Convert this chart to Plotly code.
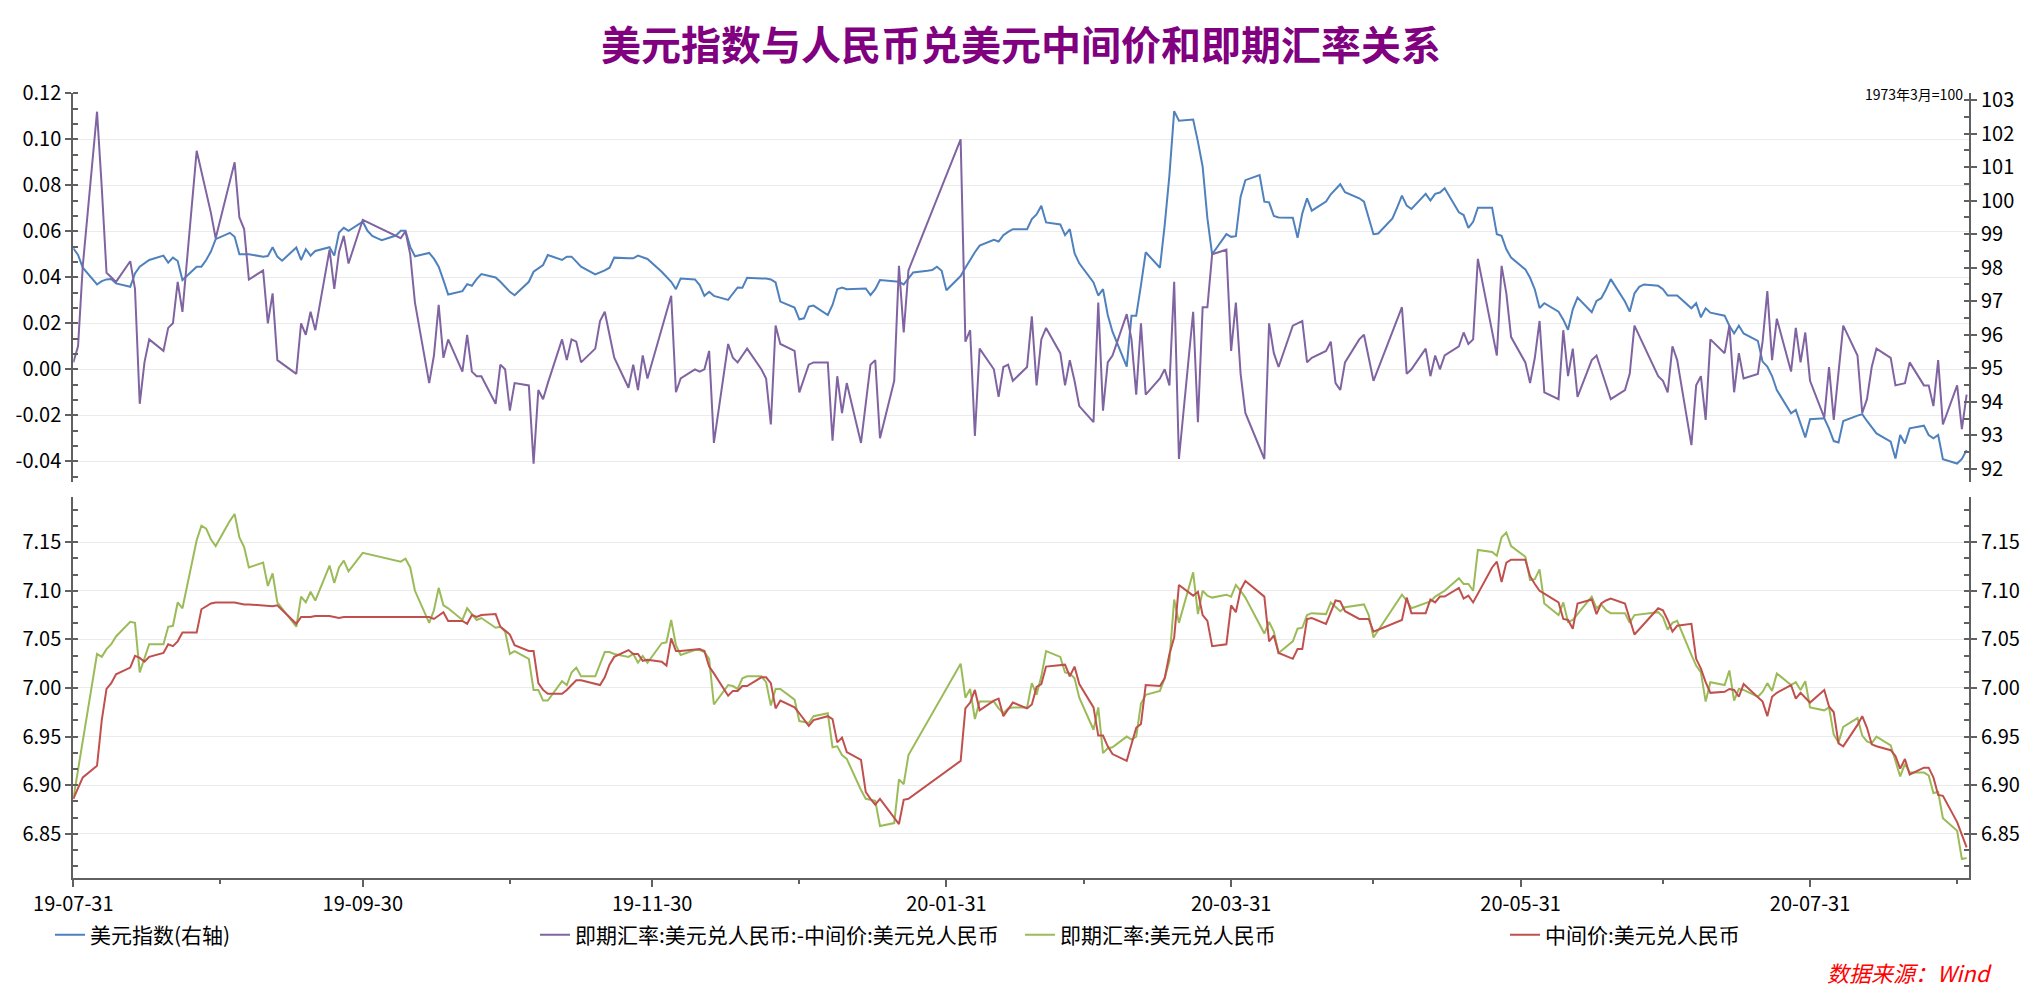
import pandas as pd
import plotly.graph_objects as go

# ---------------- data ----------------
spread_dates = [
 "19-07-31","19-08-01","19-08-02","19-08-05","19-08-06","19-08-07","19-08-08","19-08-09","19-08-12","19-08-13",
 "19-08-14","19-08-15","19-08-16","19-08-19","19-08-20","19-08-21","19-08-22","19-08-23","19-08-26","19-08-27",
 "19-08-28","19-08-29","19-08-30","19-09-02","19-09-03","19-09-04","19-09-05","19-09-06","19-09-09","19-09-10",
 "19-09-11","19-09-12","19-09-16","19-09-17","19-09-18","19-09-19","19-09-20","19-09-23","19-09-24","19-09-25",
 "19-09-26","19-09-27","19-09-30","19-10-08","19-10-09","19-10-10","19-10-11","19-10-14","19-10-15","19-10-16",
 "19-10-17","19-10-18","19-10-21","19-10-22","19-10-23","19-10-24","19-10-25","19-10-28","19-10-29","19-10-30",
 "19-10-31","19-11-01","19-11-04","19-11-05","19-11-06","19-11-07","19-11-08","19-11-11","19-11-12","19-11-13",
 "19-11-14","19-11-15","19-11-18","19-11-19","19-11-20","19-11-21","19-11-22","19-11-25","19-11-26","19-11-27",
 "19-11-28","19-11-29","19-12-04","19-12-05","19-12-06","19-12-09","19-12-10","19-12-11","19-12-12","19-12-13",
 "19-12-16","19-12-17","19-12-18","19-12-19","19-12-20","19-12-23","19-12-24","19-12-25","19-12-26","19-12-27",
 "19-12-30","19-12-31","20-01-02","20-01-03","20-01-06","20-01-07","20-01-08","20-01-09","20-01-10","20-01-13",
 "20-01-15","20-01-16","20-01-17","20-01-20","20-01-21","20-01-22","20-01-23","20-02-03","20-02-04","20-02-05",
 "20-02-06","20-02-07","20-02-10","20-02-11","20-02-12","20-02-13","20-02-14","20-02-17","20-02-18","20-02-19",
 "20-02-20","20-02-21","20-02-24","20-02-25","20-02-26","20-02-27","20-02-28","20-03-02","20-03-03","20-03-04",
 "20-03-05","20-03-06","20-03-09","20-03-10","20-03-11","20-03-12","20-03-13","20-03-16","20-03-17","20-03-18",
 "20-03-19","20-03-20","20-03-23","20-03-24","20-03-25","20-03-26","20-03-27","20-03-30","20-03-31","20-04-01",
 "20-04-02","20-04-03","20-04-07","20-04-08","20-04-09","20-04-10","20-04-13","20-04-14","20-04-15","20-04-16",
 "20-04-17","20-04-20","20-04-21","20-04-22","20-04-23","20-04-24","20-04-27","20-04-28","20-04-30","20-05-06",
 "20-05-07","20-05-08","20-05-11","20-05-12","20-05-13","20-05-14","20-05-15","20-05-18","20-05-19","20-05-20",
 "20-05-21","20-05-22","20-05-26","20-05-27","20-05-28","20-05-29","20-06-01","20-06-02","20-06-03","20-06-04",
 "20-06-05","20-06-08","20-06-09","20-06-10","20-06-11","20-06-12","20-06-15","20-06-16","20-06-19","20-06-22",
 "20-06-23","20-06-24","20-06-29","20-06-30","20-07-01","20-07-02","20-07-03","20-07-06","20-07-07","20-07-08",
 "20-07-09","20-07-10","20-07-13","20-07-14","20-07-15","20-07-16","20-07-17","20-07-20","20-07-21","20-07-22",
 "20-07-23","20-07-24","20-07-27","20-07-28","20-07-29","20-07-30","20-07-31","20-08-03","20-08-04","20-08-05",
 "20-08-07","20-08-10","20-08-11","20-08-12","20-08-13","20-08-14","20-08-17","20-08-18","20-08-20","20-08-21",
 "20-08-24","20-08-25","20-08-26","20-08-27","20-08-28","20-08-31","20-09-01","20-09-02"]
spread_vals = [
 0.003,0.010,0.045,0.112,0.079,0.042,0.040,0.038,0.047,0.035,
 -0.015,0.003,0.013,0.008,0.018,0.020,0.038,0.025,0.095,0.086,
 0.078,0.068,0.057,0.082,0.090,0.066,0.061,0.039,0.043,0.020,
 0.033,0.004,-0.002,0.020,0.015,0.025,0.017,0.052,0.035,0.051,
 0.058,0.046,0.065,0.057,0.060,0.050,0.029,-0.006,0.006,0.028,
 0.005,0.013,-0.001,0.015,-0.001,-0.003,-0.003,-0.015,0.002,0.000,
 -0.018,-0.006,-0.007,-0.041,-0.009,-0.013,-0.006,0.013,0.004,0.013,
 0.012,0.003,0.009,0.021,0.025,0.015,0.005,-0.008,0.002,-0.009,
 0.006,-0.004,0.032,-0.010,-0.004,0.000,-0.001,0.000,0.008,-0.032,
 0.011,0.005,0.003,0.006,0.009,0.000,-0.004,-0.024,0.019,0.011,
 0.008,-0.010,0.002,0.003,0.003,-0.031,-0.003,-0.019,-0.006,-0.032,
 0.002,0.004,-0.030,-0.005,0.045,0.016,0.043,0.100,0.012,0.017,
 -0.029,0.009,0.000,-0.012,0.001,0.002,-0.005,0.001,0.023,-0.007,
 0.013,0.018,0.007,-0.007,0.004,-0.005,-0.016,-0.023,0.029,-0.018,
 0.003,0.006,0.024,0.013,-0.011,0.020,-0.011,-0.004,0.000,-0.007,
 0.038,-0.039,0.025,-0.023,0.027,0.027,0.050,0.052,0.008,0.029,
 -0.002,-0.019,-0.039,0.020,0.007,0.001,0.019,0.020,0.021,0.003,
 0.005,0.008,0.012,-0.006,-0.009,0.003,0.013,0.015,-0.005,0.027,
 -0.002,0.000,0.009,-0.003,0.006,0.000,0.006,0.010,0.016,0.011,
 0.013,0.048,0.006,0.045,0.033,0.014,0.003,-0.006,0.005,0.021,
 -0.010,-0.013,0.017,-0.003,0.009,-0.012,0.004,0.006,-0.013,-0.009,
 -0.002,0.019,-0.003,-0.005,-0.010,0.010,0.004,-0.033,-0.007,-0.003,
 -0.022,0.013,0.007,0.019,-0.010,0.007,-0.004,-0.002,0.012,0.034,
 0.004,0.022,-0.001,0.018,0.003,0.016,-0.005,-0.021,0.001,-0.022,
 0.019,0.006,-0.019,-0.013,0.001,0.009,0.005,-0.007,-0.006,0.003,
 -0.007,-0.007,-0.016,0.004,-0.024,-0.007,-0.026,-0.011]

dxy_dates = [
 "19-07-31","19-08-01","19-08-02","19-08-05","19-08-06","19-08-07","19-08-08","19-08-09","19-08-12","19-08-13",
 "19-08-14","19-08-15","19-08-16","19-08-19","19-08-20","19-08-21","19-08-22","19-08-23","19-08-26","19-08-27",
 "19-08-28","19-08-29","19-08-30","19-09-02","19-09-03","19-09-04","19-09-05","19-09-06","19-09-09","19-09-10",
 "19-09-11","19-09-12","19-09-13","19-09-16","19-09-17","19-09-18","19-09-19","19-09-20","19-09-23","19-09-24",
 "19-09-25","19-09-26","19-09-27","19-09-30","19-10-01","19-10-02","19-10-03","19-10-04","19-10-07","19-10-08",
 "19-10-09","19-10-10","19-10-11","19-10-14","19-10-15","19-10-16","19-10-17","19-10-18","19-10-21","19-10-22",
 "19-10-23","19-10-24","19-10-25","19-10-28","19-10-29","19-10-30","19-10-31","19-11-01","19-11-04","19-11-05",
 "19-11-06","19-11-07","19-11-08","19-11-11","19-11-12","19-11-13","19-11-14","19-11-15","19-11-18","19-11-19",
 "19-11-20","19-11-21","19-11-22","19-11-25","19-11-26","19-11-27","19-11-28","19-11-29","19-12-02","19-12-03",
 "19-12-04","19-12-05","19-12-06","19-12-09","19-12-10","19-12-11","19-12-12","19-12-13","19-12-16","19-12-17",
 "19-12-18","19-12-19","19-12-20","19-12-23","19-12-24","19-12-25","19-12-26","19-12-27","19-12-30","19-12-31",
 "20-01-01","20-01-02","20-01-03","20-01-06","20-01-07","20-01-08","20-01-09","20-01-10","20-01-13","20-01-14",
 "20-01-15","20-01-16","20-01-17","20-01-20","20-01-21","20-01-22","20-01-23","20-01-24","20-01-27","20-01-28",
 "20-01-29","20-01-30","20-01-31","20-02-03","20-02-04","20-02-05","20-02-06","20-02-07","20-02-10","20-02-11",
 "20-02-12","20-02-13","20-02-14","20-02-17","20-02-18","20-02-19","20-02-20","20-02-21","20-02-24","20-02-25",
 "20-02-26","20-02-27","20-02-28","20-03-02","20-03-03","20-03-04","20-03-05","20-03-06","20-03-09","20-03-10",
 "20-03-11","20-03-12","20-03-13","20-03-16","20-03-17","20-03-18","20-03-19","20-03-20","20-03-23","20-03-24",
 "20-03-25","20-03-26","20-03-27","20-03-30","20-03-31","20-04-01","20-04-02","20-04-03","20-04-06","20-04-07",
 "20-04-08","20-04-09","20-04-10","20-04-13","20-04-14","20-04-15","20-04-16","20-04-17","20-04-20","20-04-21",
 "20-04-22","20-04-23","20-04-24","20-04-27","20-04-28","20-04-29","20-04-30","20-05-01","20-05-04","20-05-05",
 "20-05-06","20-05-07","20-05-08","20-05-11","20-05-12","20-05-13","20-05-14","20-05-15","20-05-18","20-05-19",
 "20-05-20","20-05-21","20-05-22","20-05-25","20-05-26","20-05-27","20-05-28","20-05-29","20-06-01","20-06-02",
 "20-06-03","20-06-04","20-06-05","20-06-08","20-06-09","20-06-10","20-06-11","20-06-12","20-06-15","20-06-16",
 "20-06-17","20-06-18","20-06-19","20-06-22","20-06-23","20-06-24","20-06-25","20-06-26","20-06-29","20-06-30",
 "20-07-01","20-07-02","20-07-03","20-07-06","20-07-07","20-07-08","20-07-09","20-07-10","20-07-13","20-07-14",
 "20-07-15","20-07-16","20-07-17","20-07-20","20-07-21","20-07-22","20-07-23","20-07-24","20-07-27","20-07-28",
 "20-07-29","20-07-30","20-07-31","20-08-03","20-08-04","20-08-05","20-08-06","20-08-07","20-08-10","20-08-11",
 "20-08-12","20-08-13","20-08-14","20-08-17","20-08-18","20-08-19","20-08-20","20-08-21","20-08-24","20-08-25",
 "20-08-26","20-08-27","20-08-28","20-08-31","20-09-01","20-09-02"]
dxy_vals = [
 98.58,98.38,98.00,97.50,97.60,97.65,97.66,97.53,97.43,97.83,
 98.03,98.13,98.23,98.36,98.15,98.30,98.20,97.63,98.03,98.03,
 98.23,98.48,98.85,99.04,98.92,98.40,98.40,98.40,98.33,98.35,
 98.61,98.33,98.21,98.60,98.23,98.55,98.36,98.50,98.61,98.36,
 99.05,99.19,99.10,99.37,99.10,98.95,98.88,98.82,98.96,99.10,
 99.10,98.62,98.34,98.44,98.27,98.03,97.63,97.20,97.30,97.51,
 97.46,97.66,97.81,97.71,97.58,97.43,97.28,97.18,97.58,97.88,
 97.98,98.08,98.38,98.23,98.33,98.33,98.18,98.03,97.80,97.85,
 97.92,98.00,98.30,98.28,98.28,98.36,98.32,98.26,97.88,97.72,
 97.58,97.36,97.68,97.65,97.48,97.16,97.28,97.16,97.04,97.23,
 97.41,97.40,97.70,97.68,97.68,97.65,97.56,96.99,96.81,96.46,
 96.49,96.84,96.87,96.59,96.89,97.36,97.41,97.36,97.38,97.38,
 97.18,97.36,97.63,97.60,97.58,97.50,97.68,97.86,97.91,97.93,
 98.03,97.91,97.33,97.75,98.00,98.25,98.46,98.66,98.83,98.78,
 98.97,99.07,99.15,99.15,99.45,99.59,99.85,99.35,99.29,98.97,
 99.15,98.43,98.13,97.56,97.17,97.36,96.59,96.09,95.05,96.57,
 96.57,97.48,98.46,98.00,99.27,100.76,102.67,102.38,102.42,101.76,
 101.01,99.47,98.40,99.00,98.92,98.94,100.12,100.61,100.76,99.97,
 99.95,99.54,99.50,99.49,98.89,99.62,100.07,99.70,99.97,100.19,
 100.35,100.49,100.25,100.07,99.97,99.47,99.00,99.02,99.47,99.80,
 100.15,99.85,99.75,100.20,100.00,100.20,100.24,100.37,99.65,99.57,
 99.19,99.37,99.79,99.79,99.00,98.95,98.55,98.30,97.95,97.70,
 97.35,96.80,96.94,96.69,96.45,96.15,96.76,97.11,96.67,97.01,
 97.09,97.35,97.66,96.99,96.69,97.23,97.43,97.50,97.46,97.36,
 97.17,97.17,97.17,96.79,96.94,96.52,96.79,96.66,96.57,96.27,
 96.04,96.27,96.04,95.82,95.20,95.05,94.77,94.35,93.66,93.76,
 93.35,92.94,93.48,93.51,93.20,92.83,92.79,93.43,93.59,93.63,
 93.43,93.25,93.06,92.81,92.31,93.01,92.76,93.21,93.29,93.01,
 92.91,93.01,92.29,92.16,92.30,92.56]

spot_dates = [
 "19-07-31","19-08-01","19-08-02","19-08-05","19-08-06","19-08-07","19-08-08","19-08-09","19-08-12","19-08-13",
 "19-08-14","19-08-15","19-08-16","19-08-19","19-08-20","19-08-21","19-08-22","19-08-23","19-08-26","19-08-27",
 "19-08-28","19-08-29","19-08-30","19-09-02","19-09-03","19-09-04","19-09-05","19-09-06","19-09-09","19-09-10",
 "19-09-11","19-09-12","19-09-16","19-09-17","19-09-18","19-09-19","19-09-20","19-09-23","19-09-24","19-09-25",
 "19-09-26","19-09-27","19-09-30","19-10-08","19-10-09","19-10-10","19-10-11","19-10-14","19-10-15","19-10-16",
 "19-10-17","19-10-18","19-10-21","19-10-22","19-10-23","19-10-24","19-10-25","19-10-28","19-10-29","19-10-30",
 "19-10-31","19-11-01","19-11-04","19-11-05","19-11-06","19-11-07","19-11-08","19-11-11","19-11-12","19-11-13",
 "19-11-14","19-11-15","19-11-18","19-11-19","19-11-20","19-11-21","19-11-22","19-11-25","19-11-26","19-11-27",
 "19-11-28","19-11-29","19-12-02","19-12-03","19-12-04","19-12-05","19-12-06","19-12-09","19-12-10","19-12-11",
 "19-12-12","19-12-13","19-12-16","19-12-17","19-12-18","19-12-19","19-12-20","19-12-23","19-12-24","19-12-25",
 "19-12-26","19-12-27","19-12-30","19-12-31","20-01-02","20-01-03","20-01-06","20-01-07","20-01-08","20-01-09",
 "20-01-10","20-01-13","20-01-14","20-01-15","20-01-16","20-01-17","20-01-20","20-01-21","20-01-22","20-01-23",
 "20-02-03","20-02-04","20-02-05","20-02-06","20-02-07","20-02-10","20-02-11","20-02-12","20-02-13","20-02-14",
 "20-02-17","20-02-18","20-02-19","20-02-20","20-02-21","20-02-24","20-02-25","20-02-26","20-02-27","20-02-28",
 "20-03-02","20-03-03","20-03-04","20-03-05","20-03-06","20-03-09","20-03-10","20-03-11","20-03-12","20-03-13",
 "20-03-16","20-03-17","20-03-18","20-03-19","20-03-20","20-03-23","20-03-24","20-03-25","20-03-26","20-03-27",
 "20-03-30","20-03-31","20-04-01","20-04-02","20-04-03","20-04-07","20-04-08","20-04-09","20-04-10","20-04-13",
 "20-04-14","20-04-15","20-04-16","20-04-17","20-04-20","20-04-21","20-04-22","20-04-23","20-04-24","20-04-27",
 "20-04-28","20-04-29","20-04-30","20-05-06","20-05-07","20-05-08","20-05-11","20-05-12","20-05-13","20-05-14",
 "20-05-15","20-05-18","20-05-19","20-05-20","20-05-21","20-05-22","20-05-25","20-05-26","20-05-27","20-05-28",
 "20-05-29","20-06-01","20-06-02","20-06-03","20-06-04","20-06-05","20-06-08","20-06-09","20-06-10","20-06-11",
 "20-06-12","20-06-15","20-06-16","20-06-17","20-06-18","20-06-19","20-06-22","20-06-23","20-06-24","20-06-29",
 "20-06-30","20-07-01","20-07-02","20-07-03","20-07-06","20-07-07","20-07-08","20-07-09","20-07-10","20-07-13",
 "20-07-14","20-07-15","20-07-16","20-07-17","20-07-20","20-07-21","20-07-22","20-07-23","20-07-24","20-07-27",
 "20-07-28","20-07-29","20-07-30","20-07-31","20-08-03","20-08-04","20-08-05","20-08-06","20-08-07","20-08-10",
 "20-08-11","20-08-12","20-08-13","20-08-14","20-08-17","20-08-18","20-08-19","20-08-20","20-08-21","20-08-24",
 "20-08-25","20-08-26","20-08-27","20-08-28","20-08-31","20-09-01","20-09-02"]
spot_vals = [
 6.886,6.915,6.945,7.035,7.032,7.040,7.045,7.053,7.068,7.067,
 7.016,7.030,7.045,7.045,7.063,7.064,7.088,7.082,7.152,7.167,
 7.164,7.153,7.146,7.172,7.179,7.155,7.145,7.124,7.129,7.105,
 7.118,7.088,7.063,7.094,7.088,7.099,7.090,7.126,7.108,7.124,
 7.131,7.120,7.139,7.130,7.133,7.124,7.100,7.067,7.080,7.103,
 7.085,7.082,7.070,7.082,7.076,7.070,7.072,7.062,7.063,7.058,
 7.035,7.038,7.030,6.998,6.998,6.987,6.987,7.007,7.003,7.016,
 7.021,7.012,7.012,7.025,7.037,7.037,7.035,7.032,7.035,7.026,
 7.033,7.026,7.046,7.047,7.070,7.044,7.034,7.039,7.039,7.037,
 7.030,6.983,7.003,7.002,6.999,7.010,7.012,7.012,7.006,6.982,
 6.999,6.999,6.988,6.966,6.964,6.971,6.974,6.939,6.940,6.931,
 6.927,6.895,6.886,6.885,6.884,6.858,6.861,6.906,6.901,6.931,
 7.025,6.990,6.999,6.968,6.986,6.986,6.979,6.974,6.979,6.980,
 6.980,7.005,6.993,7.012,7.038,7.032,7.016,7.015,7.010,6.990,
 6.957,6.980,6.933,6.938,6.939,6.950,6.947,6.950,6.984,6.993,
 6.997,7.010,7.028,7.091,7.067,7.119,7.076,7.100,7.095,7.093,
 7.096,7.094,7.106,7.100,7.093,7.056,7.068,7.058,7.036,7.048,
 7.061,7.062,7.075,7.077,7.076,7.088,7.083,7.079,7.083,7.085,
 7.086,7.075,7.052,7.096,7.090,7.082,7.087,7.089,7.094,7.097,
 7.100,7.113,7.107,7.107,7.100,7.142,7.140,7.136,7.155,7.160,
 7.146,7.135,7.111,7.112,7.122,7.087,7.075,7.088,7.068,7.070,
 7.076,7.094,7.082,7.086,7.080,7.077,7.077,7.067,7.075,7.078,
 7.073,7.060,7.067,7.069,7.034,7.023,7.016,6.986,7.006,7.003,
 7.018,6.987,6.999,6.998,6.991,6.996,7.005,6.997,7.015,7.003,
 7.006,6.998,7.007,6.980,6.977,6.980,6.952,6.944,6.960,6.969,
 6.951,6.945,6.943,6.950,6.941,6.926,6.909,6.922,6.913,6.913,
 6.910,6.892,6.893,6.866,6.853,6.824,6.825]

mid_dates = spot_dates
mid_vals = [
 6.886,6.898,6.908,6.920,6.967,6.999,7.005,7.014,7.021,7.033,
 7.031,7.027,7.032,7.036,7.045,7.043,7.048,7.057,7.057,7.081,
 7.084,7.087,7.088,7.088,7.088,7.087,7.086,7.086,7.085,7.085,
 7.084,7.085,7.066,7.073,7.073,7.073,7.074,7.074,7.073,7.072,
 7.073,7.073,7.073,7.073,7.073,7.073,7.073,7.073,7.071,7.075,
 7.078,7.069,7.069,7.066,7.075,7.073,7.075,7.076,7.063,7.059,
 7.055,7.044,7.038,7.038,7.005,6.998,6.994,6.994,6.998,7.003,
 7.008,7.008,7.004,7.003,7.011,7.024,7.032,7.039,7.035,7.035,
 7.028,7.029,7.027,7.023,7.051,7.038,7.038,7.040,7.040,7.038,
 7.022,7.015,6.992,6.997,6.997,7.002,7.002,7.011,7.011,7.005,
 6.979,6.987,6.980,6.974,6.961,6.967,6.971,6.968,6.944,6.949,
 6.934,6.926,6.893,6.886,6.880,6.886,6.867,6.860,6.885,6.886,
 6.925,6.979,6.985,6.998,6.977,6.987,6.989,6.971,6.978,6.985,
 6.979,6.983,7.001,7.004,7.022,7.024,7.024,7.012,7.022,7.004,
 6.980,6.951,6.951,6.940,6.932,6.925,6.943,6.959,6.963,7.003,
 7.002,7.010,7.035,7.052,7.106,7.095,7.099,7.075,7.069,7.043,
 7.045,7.085,7.078,7.101,7.110,7.094,7.048,7.054,7.036,7.030,
 7.040,7.040,7.071,7.072,7.066,7.079,7.090,7.089,7.079,7.071,
 7.071,7.071,7.058,7.070,7.093,7.077,7.077,7.091,7.088,7.094,
 7.094,7.103,7.092,7.095,7.088,7.097,7.124,7.130,7.109,7.129,
 7.132,7.132,7.115,7.107,7.100,7.097,7.088,7.071,7.070,7.061,
 7.087,7.091,7.076,7.087,7.090,7.092,7.087,7.071,7.055,7.082,
 7.080,7.070,7.058,7.064,7.066,7.030,7.020,7.006,6.995,6.996,
 6.999,6.998,6.991,7.004,6.991,6.986,6.971,6.991,6.995,7.003,
 6.989,6.995,6.990,6.985,6.998,6.981,6.975,6.943,6.940,6.962,
 6.971,6.959,6.942,6.940,6.936,6.930,6.917,6.927,6.911,6.918,
 6.918,6.908,6.890,6.889,6.862,6.850,6.836]

x_major = ["2019-07-31","2019-09-30","2019-11-30","2020-01-31","2020-03-31","2020-05-31","2020-07-31"]
x_major_text = ["19-07-31","19-09-30","19-11-30","20-01-31","20-03-31","20-05-31","20-07-31"]
x_minor = ["2019-08-31","2019-10-31","2019-12-31","2020-02-29","2020-04-30","2020-06-30","2020-08-31"]
spread_ticks = [-0.04, -0.02, 0.00, 0.02, 0.04, 0.06, 0.08, 0.10, 0.12]
spread_ticktext = ["-0.04", "-0.02", "0.00", "0.02", "0.04", "0.06", "0.08", "0.10", "0.12"]
rate_ticks = [6.85, 6.90, 6.95, 7.00, 7.05, 7.10, 7.15]
rate_ticktext = ["6.85", "6.90", "6.95", "7.00", "7.05", "7.10", "7.15"]

names = ["美元指数(右轴)", "即期汇率:美元兑人民币:-中间价:美元兑人民币",
         "即期汇率:美元兑人民币", "中间价:美元兑人民币"]
colors = ["#4F81BD", "#8064A2", "#9BBB59", "#C0504D"]

# ---------------- layout helpers ----------------
W, H = 2042, 987
def fx(p):
    return p / W
def fy(p):
    return 1 - p / H

def d(lst):
    return pd.to_datetime(lst, format="%y-%m-%d")

FONT = "Noto Sans CJK SC, Noto Sans, sans-serif"
AX = "#606060"
GRID = "#EBEBEB"
x_range = ["2019-07-31", "2020-09-02 12:00"]

fig = go.Figure()
fig.add_trace(go.Scatter(x=d(dxy_dates), y=dxy_vals, name=names[0], mode="lines",
                         line=dict(color=colors[0], width=2), xaxis="x", yaxis="y"))
fig.add_trace(go.Scatter(x=d(spread_dates), y=spread_vals, name=names[1], mode="lines",
                         line=dict(color=colors[1], width=2), xaxis="x", yaxis="y2"))
fig.add_trace(go.Scatter(x=d(spot_dates), y=spot_vals, name=names[2], mode="lines",
                         line=dict(color=colors[2], width=2), xaxis="x2", yaxis="y3"))
fig.add_trace(go.Scatter(x=d(mid_dates), y=mid_vals, name=names[3], mode="lines",
                         line=dict(color=colors[3], width=2), xaxis="x2", yaxis="y3"))

xdom = [fx(73.3), fx(1969)]
top_dom = [fy(482), fy(93.3)]
bot_dom = [fy(878), fy(497)]
tickfont = dict(family=FONT, size=20, color="#000000")

common_y = dict(showline=True, linecolor=AX, linewidth=2, ticks="outside", ticklen=6,
                tickcolor=AX, tickwidth=2, tickfont=tickfont, zeroline=False, fixedrange=True,
                automargin=False)

fig.update_layout(
    width=W, height=H, autosize=False,
    margin=dict(l=0, r=0, t=0, b=0, pad=0, autoexpand=False),
    paper_bgcolor="white", plot_bgcolor="white",
    font=dict(family=FONT, color="#000000"),
    title=dict(text="<b>美元指数与人民币兑美元中间价和即期汇率关系</b>",
               x=0.5, xanchor="center", y=fy(46), yanchor="middle",
               font=dict(family=FONT, size=40, color="#800080")),
    xaxis=dict(domain=xdom, anchor="y", type="date", range=x_range, showline=False,
               showticklabels=False, ticks="", showgrid=False, zeroline=False, automargin=False),
    xaxis2=dict(domain=xdom, anchor="y3", type="date", range=x_range, showline=True,
                linecolor=AX, linewidth=2, tickmode="array", tickvals=x_major,
                ticktext=x_major_text, ticks="outside", ticklen=7, tickcolor=AX, tickwidth=2,
                tickfont=tickfont, showgrid=False, zeroline=False, automargin=False,
                minor=dict(tickmode="array", tickvals=x_minor, ticks="outside", ticklen=4,
                           tickcolor=AX, tickwidth=2, showgrid=False)),
    yaxis=dict(domain=top_dom, anchor="x", side="right", range=[91.61, 103.2],
               tickmode="linear", tick0=0, dtick=1, showgrid=False,
               minor=dict(tick0=0, dtick=0.5, ticks="inside", ticklen=5, tickcolor=AX,
                          tickwidth=2, showgrid=False),
               **common_y),
    yaxis2=dict(overlaying="y", anchor="x", side="left", range=[-0.049, 0.12],
                tickmode="array", tickvals=spread_ticks, ticktext=spread_ticktext,
                showgrid=True, gridcolor=GRID, gridwidth=1,
                minor=dict(tick0=0, dtick=0.02 / 3, ticks="inside", ticklen=5, tickcolor=AX,
                           tickwidth=2, showgrid=False),
                **common_y),
    yaxis3=dict(domain=bot_dom, anchor="x2", side="left", range=[6.8045, 7.1965],
                tickmode="array", tickvals=rate_ticks, ticktext=rate_ticktext,
                showgrid=True, gridcolor=GRID, gridwidth=1,
                minor=dict(tick0=6.85, dtick=0.05 / 3, ticks="inside", ticklen=5, tickcolor=AX,
                           tickwidth=2, showgrid=False),
                **common_y),
    yaxis4=dict(overlaying="y3", anchor="x2", side="right", range=[6.8045, 7.1965],
                tickmode="array", tickvals=rate_ticks, ticktext=rate_ticktext,
                showgrid=False,
                minor=dict(tick0=6.85, dtick=0.05 / 3, ticks="inside", ticklen=5, tickcolor=AX,
                           tickwidth=2, showgrid=False),
                **common_y),
    legend=dict(orientation="h", x=fx(50), y=fy(935), xanchor="left", yanchor="middle",
                xref="container", yref="container",
                font=dict(family=FONT, size=21, color="#000000"),
                entrywidth=440, entrywidthmode="pixels", itemwidth=30,
                bgcolor="rgba(0,0,0,0)", traceorder="normal", tracegroupgap=0),
    showlegend=True,
    annotations=[
        dict(text="1973年3月=100", x=fx(1965), y=fy(94), xref="paper", yref="paper",
             xanchor="right", yanchor="middle", showarrow=False,
             font=dict(family=FONT, size=14, color="#000000")),
        dict(text="<i>数据来源：Wind</i>", x=fx(1994), y=fy(972), xref="paper", yref="paper",
             xanchor="right", yanchor="middle", showarrow=False,
             font=dict(family=FONT, size=22, color="#FF0000")),
    ],
)

# invisible helper trace so the right-hand axis of the lower panel is rendered
fig.add_trace(go.Scatter(x=[pd.Timestamp("2020-01-01")], y=[7.0], xaxis="x2", yaxis="y4",
                         mode="markers", marker=dict(opacity=0), showlegend=False,
                         hoverinfo="skip"))

fig.write_html("out.html")
